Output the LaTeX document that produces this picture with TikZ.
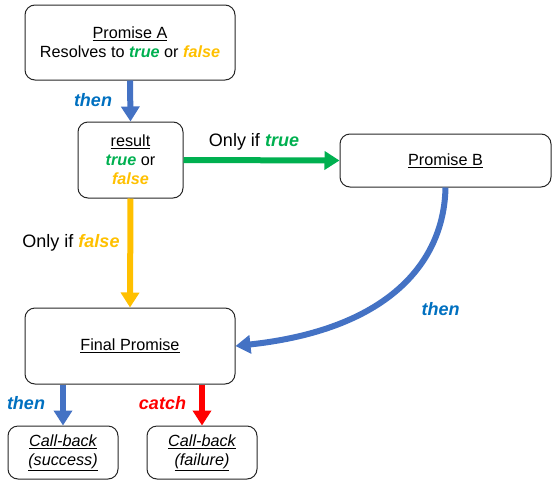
\documentclass[tikz,border=0pt]{standalone}
\usepackage{fontspec}
\setmainfont{Liberation Sans}
\usetikzlibrary{arrows.meta}
\definecolor{thenblue}{HTML}{4472C4}
\definecolor{thentext}{HTML}{0070C0}
\definecolor{truegreen}{HTML}{00B050}
\definecolor{falseyellow}{HTML}{FFC000}
\definecolor{catchred}{HTML}{FF0000}
\definecolor{boxline}{HTML}{262626}
\newcommand{\kwtrue}{\textcolor{truegreen}{\textbf{\textit{true}}}}
\newcommand{\kwfalse}{\textcolor{falseyellow}{\textbf{\textit{false}}}}
\newcommand{\kwlabel}[2]{\textcolor{#1}{\textbf{\textit{#2}}}}

\begin{document}
\begin{tikzpicture}[x=1pt, y=-1pt,
    every node/.style={font=\fontsize{16.2}{19}\selectfont},
    promisebox/.style={draw=boxline, line width=1pt, rounded corners=10pt,
      align=center, inner sep=0pt},
    edgelabel/.style={font=\fontsize{18}{21}\selectfont},
    flowarrow/.style={line width=6pt,
      -{Triangle[width=18pt, length=15pt]}}]
  \useasboundingbox (0,0) rectangle (559,498);

  % Promises
  \node[promisebox, minimum width=210pt, minimum height=75pt] (pa) at (130,42.5)
    {\underline{Promise A}\\Resolves to \kwtrue{} or \kwfalse};
  \node[promisebox, minimum width=105pt, minimum height=76pt] (res) at (130.5,160)
    {\underline{result}\\\kwtrue{} or\\\kwfalse};
  \node[promisebox, minimum width=211pt, minimum height=53pt] (pb) at (445.5,160.5)
    {\underline{Promise B}};
  \node[promisebox, minimum width=210pt, minimum height=76pt] (fin) at (130,346)
    {\underline{Final Promise}};

  % Call-backs
  \node[promisebox, minimum width=110pt, minimum height=53pt] (ok) at (63,452.5)
    {\textit{\underline{Call-back}}\\\textit{\underline{(success)}}};
  \node[promisebox, minimum width=110pt, minimum height=53pt] (fail) at (202,452.5)
    {\textit{\underline{Call-back}}\\\textit{\underline{(failure)}}};

  % Connectors
  \draw[flowarrow, thenblue] (pa.south) -- (res.north);
  \draw[flowarrow, truegreen] (res.east) -- (pb.west);
  \draw[flowarrow, falseyellow] (res.south) -- (fin.north);
  \draw[flowarrow, thenblue] (pb.south) .. controls (444,265) and (385,330) .. (fin.east);
  \draw[flowarrow, thenblue] (ok.north |- fin.south) -- (ok.north);
  \draw[flowarrow, catchred] (fail.north |- fin.south) -- (fail.north);

  % Labels
  \node[edgelabel] (thenA) at (93,100) {\kwlabel{thentext}{then}};
  \node[edgelabel] (iftrue) at (254,142) {Only if \kwtrue};
  \node[edgelabel] (iffalse) at (71,243) {Only if \kwfalse};
  \node[edgelabel] (thenB) at (440.5,309) {\kwlabel{thentext}{then}};
  \node[edgelabel] (thenok) at (26,403) {\kwlabel{thentext}{then}};
  \node[edgelabel] (catchfail) at (162.5,403) {\kwlabel{catchred}{catch}};
\end{tikzpicture}
\end{document}
